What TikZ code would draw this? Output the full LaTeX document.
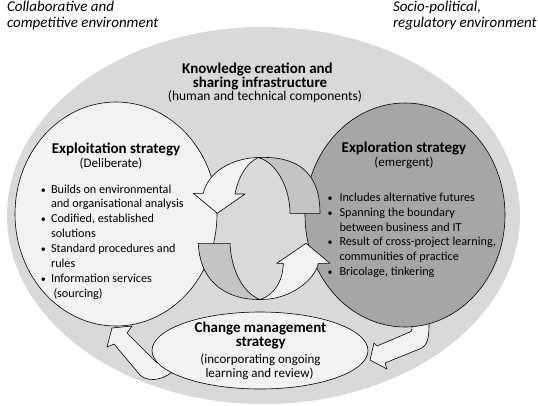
\documentclass[tikz,border=0pt]{standalone}
\usepackage{fontspec}
\setmainfont{Carlito}
\usetikzlibrary{shapes.geometric}
\definecolor{envgrey}{HTML}{D9D9D9}
\definecolor{lightfill}{HTML}{F2F2F2}
\definecolor{darkfill}{HTML}{A6A6A6}
\definecolor{bandgrey}{HTML}{C4C4C4}
\tikzset{
  blob/.style={ellipse, inner sep=0pt, draw=black, line width=0.6pt},
  arrowshape/.style={draw=black, line width=0.6pt, fill=lightfill, line join=round},
  bandshape/.style={draw=black, line width=0.6pt, fill=bandgrey, line join=round},
  txt/.style={inner sep=0pt, outer sep=0pt, text=black},
  titlefont/.style={txt, font=\fontsize{15}{15}\selectfont\bfseries},
  subfont/.style={txt, font=\fontsize{13}{13}\selectfont},
  subbig/.style={txt, font=\fontsize{13.5}{13.5}\selectfont},
  itemfont/.style={txt, font=\fontsize{12.2}{12.2}\selectfont},
  bulletfont/.style={txt, font=\fontsize{10}{10}\selectfont},
  envfont/.style={txt, font=\fontsize{15}{15}\selectfont\itshape},
}
\begin{document}
\begin{tikzpicture}[x=1pt,y=-1pt]
\useasboundingbox (0,0) rectangle (538,405);
\fill[white] (0,0) rectangle (538,405);

% environment ellipse
\node[ellipse, inner sep=0pt, fill=envgrey, minimum width=513pt, minimum height=377pt] (infra) at (263.5,215.5) {};

% bottom block arrows (behind circles and change ellipse)
\draw[arrowshape] (127,333) -- (132,326) -- (112,328) -- (107,347) -- (114,344) -- (140,375)
  .. controls (146,381) and (160,382) .. (172,372) -- (170,360) -- (157,363) -- cycle;
\draw[arrowshape] (412,314) -- (412,327) .. controls (412,331) and (411,332) .. (410,332)
  -- (377,346) -- (374,343) -- (370,360) -- (387,369) -- (385,363) -- (422,348)
  .. controls (427,345) and (429,338) .. (429,326) -- (429,314) -- cycle;

% strategy circles
\node[blob, fill=lightfill, minimum width=202pt, minimum height=224pt] (exploit) at (116,214) {};
\node[blob, fill=darkfill, minimum width=200pt, minimum height=224pt] (explore) at (405,215) {};

% central cycle arrows
\draw[bandshape] (258.3,157.5) .. controls (295,156) and (320,170) .. (320,213.3) -- (290,213.3)
  .. controls (290,190) and (278,163) .. (258.3,157.5) -- cycle;
\draw[arrowshape] (258.3,157.5) .. controls (232,158) and (208,172) .. (203.3,193.3) -- (193.3,193.3)
  -- (217.3,213.3) -- (245,194) -- (235,194) .. controls (238,178) and (246,163) .. (258.3,157.5) -- cycle;
\draw[bandshape] (198.3,243.3) -- (230,243.3) .. controls (231,270) and (243,293) .. (260,299.5)
  .. controls (230,300) and (200,285) .. (198.3,243.3) -- cycle;
\draw[arrowshape] (260,299.5) .. controls (290,300) and (315,280) .. (318.3,263.3) -- (330,263.3)
  -- (306,243.3) -- (276.7,263.3) -- (283.3,263.3) .. controls (283,280) and (275,295) .. (260,299.5) -- cycle;

% change management ellipse
\node[blob, fill=lightfill, minimum width=216pt, minimum height=77pt] (change) at (260,350.5) {};

% environment labels
\node[envfont, anchor=base west] (envA1) at (7,11.7) {Collaborative and};
\node[envfont, anchor=base west] (envA2) at (7,27.7) {competitive environment};
\node[envfont, anchor=base west] (envB1) at (393,11.7) {Socio-political,};
\node[envfont, anchor=base west] (envB2) at (393,27.7) {regulatory environment};

% infrastructure label
\node[titlefont, anchor=base] (k1) at (257.5,73) {Knowledge creation and};
\node[titlefont, anchor=base] (k2) at (260,87) {sharing infrastructure};
\node[subbig, anchor=base] (k3) at (265,100) {(human and technical components)};

% exploitation
\node[titlefont, anchor=base] (xt) at (116,153) {Exploitation strategy};
\node[subfont, anchor=base] (xs) at (111,167) {(Deliberate)};
\node[bulletfont, anchor=base] (xb1) at (43.3,193) {•};
\node[itemfont, anchor=base west] (xl1) at (51,193) {Builds on environmental};
\node[itemfont, anchor=base west] (xl2) at (51,207.9) {and organisational analysis};
\node[bulletfont, anchor=base] (xb2) at (43.3,222.7) {•};
\node[itemfont, anchor=base west] (xl3) at (51,222.7) {Codified, established};
\node[itemfont, anchor=base west] (xl4) at (51,237.6) {solutions};
\node[bulletfont, anchor=base] (xb3) at (43.3,252.4) {•};
\node[itemfont, anchor=base west] (xl5) at (51,252.4) {Standard procedures and};
\node[itemfont, anchor=base west] (xl6) at (51,267.3) {rules};
\node[bulletfont, anchor=base] (xb4) at (43.3,282.1) {•};
\node[itemfont, anchor=base west] (xl7) at (51,282.1) {Information services};
\node[itemfont, anchor=base west] (xl8) at (53.5,297) {(sourcing)};

% exploration
\node[titlefont, anchor=base] (rt) at (404,152.7) {Exploration strategy};
\node[subfont, anchor=base] (rs) at (404,166.7) {(emergent)};
\node[bulletfont, anchor=base] (rb1) at (330,201) {•};
\node[itemfont, anchor=base west] (rl1) at (339.5,201) {Includes alternative futures};
\node[bulletfont, anchor=base] (rb2) at (330,216) {•};
\node[itemfont, anchor=base west] (rl2) at (339.5,216) {Spanning the boundary};
\node[itemfont, anchor=base west] (rl3) at (339.5,231) {between business and IT};
\node[bulletfont, anchor=base] (rb3) at (330,245.5) {•};
\node[itemfont, anchor=base west] (rl4) at (339.5,245.5) {Result of cross-project learning,};
\node[itemfont, anchor=base west] (rl5) at (339.5,260.5) {communities of practice};
\node[bulletfont, anchor=base] (rb4) at (330,275.5) {•};
\node[itemfont, anchor=base west] (rl6) at (339.5,275.5) {Bricolage, tinkering};

% change management
\node[titlefont, anchor=base] (c1) at (260.5,332.3) {Change management};
\node[titlefont, anchor=base] (c2) at (260.8,346.7) {strategy};
\node[subfont, anchor=base] (c3) at (260.5,363.5) {(incorporating ongoing};
\node[subfont, anchor=base] (c4) at (259.5,377.3) {learning and review)};
\end{tikzpicture}
\end{document}
